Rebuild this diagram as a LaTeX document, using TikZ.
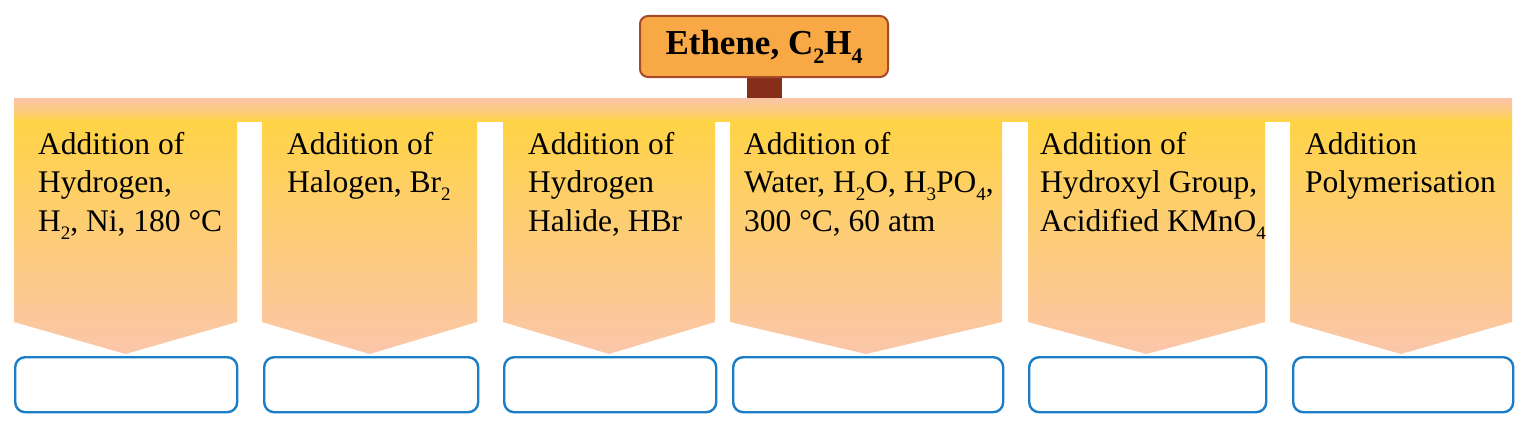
\documentclass[tikz,border=0pt]{standalone}
\usepackage{fontspec}
\setmainfont{Liberation Serif}
\definecolor{bandpink}{HTML}{FAC4A6}
\definecolor{bandyellow}{HTML}{FFD54A}
\definecolor{coltop}{HTML}{FFD346}
\definecolor{colbot}{HTML}{FBC6AA}
\definecolor{boxblue}{HTML}{1A7DC6}
\definecolor{titlefill}{HTML}{F8A845}
\definecolor{titledraw}{HTML}{A44A2A}
\definecolor{stemcol}{HTML}{872E1B}
\newcommand{\csub}[1]{\raisebox{-0.55ex}{\fontsize{19}{19}\selectfont #1}}
\newcommand{\tsub}[1]{\raisebox{-0.55ex}{\fontsize{22}{22}\selectfont #1}}
\tikzset{
  coltext/.style={anchor=north west, align=left, inner sep=0pt, font=\fontsize{31.5}{38.5}\selectfont, text=black},
  answerbox/.style={draw=boxblue, line width=2.4pt, rounded corners=10pt, fill=white, inner sep=0pt},
  titlebox/.style={draw=titledraw, line width=2pt, fill=titlefill, rounded corners=8pt, inner sep=0pt,
    minimum width=248pt, minimum height=61pt, font=\bfseries\fontsize{35}{35}\selectfont},
  stembox/.style={fill=stemcol, inner sep=0pt, minimum width=35pt, minimum height=22pt},
  colshade/.style={top color=coltop, bottom color=colbot}
}
\begin{document}
\begin{tikzpicture}[x=1pt,y=-1pt]
\useasboundingbox (0,0) rectangle (1536,428);
% band
\shade[top color=bandpink, bottom color=bandyellow, middle color=bandpink!60!bandyellow] (14,98) rectangle (1512,121);
% columns
\foreach \l/\r in {14/237, 262/477, 503/715, 730/1002, 1028/1265, 1290/1512}{
  \pgfmathsetmacro{\m}{(\l+\r)/2}
  \shade[colshade] (\l,120) -- (\r,120) -- (\r,322) -- (\m,354) -- (\l,322) -- cycle;
}
% stem and title
\node[stembox, anchor=north] (stem) at (764.5,76) {};
\node[titlebox] (title) at (764,46.5) {\raisebox{0pt}{Ethene, C\tsub{2}H\tsub{4}}};
% texts
\node[coltext] (t1) at (38,132) {Addition of\\Hydrogen,\\H\csub{2}, Ni, 180 °C};
\node[coltext] (t2) at (287,132) {Addition of\\Halogen, Br\csub{2}};
\node[coltext] (t3) at (528,132) {Addition of\\Hydrogen\\Halide, HBr};
\node[coltext] (t4) at (744,132) {Addition of\\Water, H\csub{2}O, H\csub{3}PO\csub{4},\\300 °C, 60 atm};
\node[coltext] (t5) at (1040,132) {Addition of\\Hydroxyl Group,\\Acidified KMnO\csub{4}};
\node[coltext] (t6) at (1305,132) {Addition\\Polymerisation};
% answer boxes
\foreach \n/\l/\r in {b1/14/236, b2/263/477, b3/503/715, b4/732/1002, b5/1028/1265, b6/1292/1512}{
  \node[answerbox, minimum width={\r-\l}, minimum height=55pt, anchor=north west] (\n) at (\l,356) {};
}
\end{tikzpicture}
\end{document}
